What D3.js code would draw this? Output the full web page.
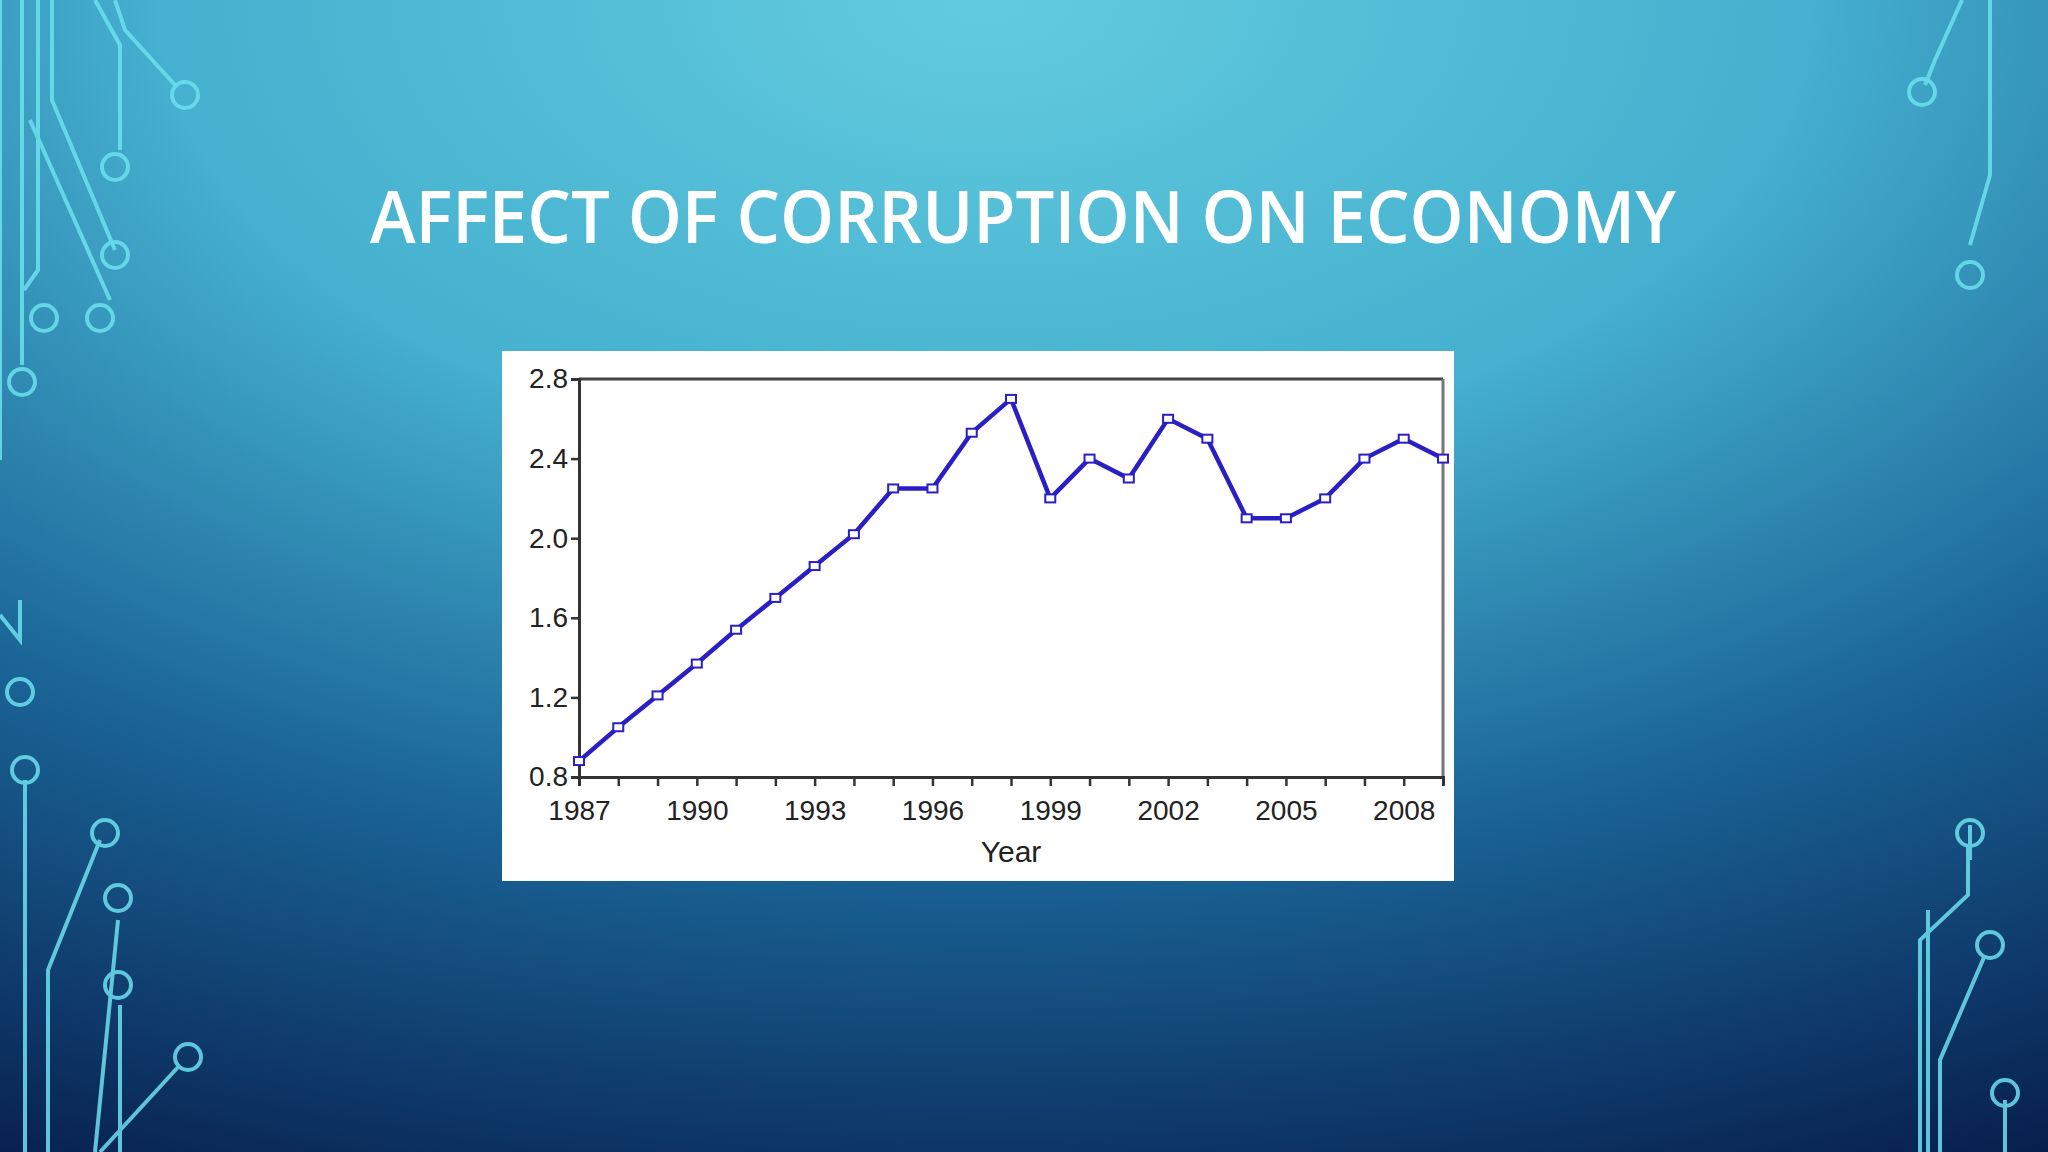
<!DOCTYPE html>
<html><head><meta charset="utf-8">
<script src="https://cdn.jsdelivr.net/npm/d3@7"></script>
<style>body{margin:0;overflow:hidden}svg{display:block}</style>
</head><body>
<svg id="c" width="2048" height="1152"></svg>
<script>
const years = d3.range(1987, 2010);
const values = [0.88,1.05,1.21,1.37,1.54,1.70,1.86,2.02,2.25,2.25,2.53,2.70,2.20,2.40,2.30,2.60,2.50,2.10,2.10,2.20,2.40,2.50,2.40];
const yTicks = [0.8,1.2,1.6,2.0,2.4,2.8];
const xTickLabels = [1987,1990,1993,1996,1999,2002,2005,2008];
const title = "AFFECT OF CORRUPTION ON ECONOMY";

const svg = d3.select("#c");
const defs = svg.append("defs");
const g1 = defs.append("radialGradient").attr("id","bg").attr("cx","0.48").attr("cy","0.0").attr("r","1.15");
g1.append("stop").attr("offset","0").attr("stop-color","#62cbdf");
g1.append("stop").attr("offset","0.35").attr("stop-color","#45b0cf");
g1.append("stop").attr("offset","0.65").attr("stop-color","#1a6496");
g1.append("stop").attr("offset","1").attr("stop-color","#061a48");
svg.append("rect").attr("width",2048).attr("height",1152).attr("fill","url(#bg)");

const deco = svg.append("g").attr("stroke","#6ee0f0").attr("stroke-width",4).attr("fill","none").attr("opacity",0.85);
const paths = [
 [[22,0],[22,365]],[[38,0],[38,270],[24,290]],[[52,0],[52,100],[115,250]],[[95,0],[120,45],[120,150]],[[115,0],[125,30],[175,85]],
 [[30,120],[110,300]],[[0,460],[0,0]],
 [[20,600],[20,640],[0,615]],[[25,780],[25,1152]],[[48,1152],[48,970],[100,840]],[[95,1152],[118,920]],[[120,1152],[120,1005]],[[100,1152],[180,1065]],
 [[1990,0],[1990,175],[1970,245]],[[1962,0],[1935,60],[1925,85]],[[1928,910],[1928,1152]],[[1970,860],[1970,825]],[[1940,1152],[1940,1060],[1985,955]],[[2005,1152],[2005,1100]],
 [[1920,1152],[1920,940],[1968,895],[1968,845]]
];
paths.forEach(p=>deco.append("path").attr("d",d3.line()(p)));
[[185,95],[115,167],[115,255],[100,318],[22,382],[20,692],[25,770],[105,833],[118,898],[118,985],[188,1057],[44,318],[1922,92],[1970,275],[1970,833],[1990,945],[2005,1093]].forEach(c=>deco.append("circle").attr("cx",c[0]).attr("cy",c[1]).attr("r",13));

svg.append("text").attr("x",1023).attr("y",243).attr("text-anchor","middle")
 .attr("font-family","'Open Sans', sans-serif").attr("font-weight",600).attr("font-size",72).attr("fill","#fff").attr("textLength",1306).attr("lengthAdjust","spacingAndGlyphs").text(title);

svg.append("rect").attr("x",502).attr("y",351).attr("width",952).attr("height",530).attr("fill","#fff");
const x = d3.scaleLinear().domain([1987,2009]).range([579,1443]);
const y = d3.scaleLinear().domain([0.8,2.8]).range([777,379]);
const font = "'Liberation Sans', Arial, sans-serif";

svg.append("line").attr("x1",579).attr("x2",1443).attr("y1",379).attr("y2",379).attr("stroke","#444").attr("stroke-width",3);
svg.append("line").attr("x1",1443).attr("x2",1443).attr("y1",379).attr("y2",777).attr("stroke","#777").attr("stroke-width",3);

const ya = svg.append("g").attr("transform","translate(579,0)").call(d3.axisLeft(y).tickValues(yTicks).tickFormat(d3.format(".1f")).tickSize(8));
const xa = svg.append("g").attr("transform","translate(0,777)").call(d3.axisBottom(x).tickValues(years).tickSize(9).tickFormat(d=>xTickLabels.includes(d)?d:""));
[ya,xa].forEach(a=>{a.select(".domain").attr("stroke","#333").attr("stroke-width",3);a.selectAll("line").attr("stroke","#333").attr("stroke-width",2.5);
 a.selectAll("text").attr("font-family",font).attr("font-size",28).attr("fill","#222");});
xa.selectAll("text").attr("dy","1.1em");
svg.append("text").attr("x",1011).attr("y",862).attr("text-anchor","middle").attr("font-family",font).attr("font-size",30).attr("fill","#222").text("Year");

const data = years.map((yr,i)=>({yr,v:values[i]}));
svg.append("path").datum(data).attr("d",d3.line().x(d=>x(d.yr)).y(d=>y(d.v))).attr("fill","none").attr("stroke","#2a1fc4").attr("stroke-width",4.5);
svg.selectAll(".m").data(data).join("rect").attr("x",d=>x(d.yr)-5).attr("y",d=>y(d.v)-4).attr("width",10).attr("height",8)
 .attr("fill","#fff").attr("stroke","#2a1fc4").attr("stroke-width",2);
</script></body></html>
